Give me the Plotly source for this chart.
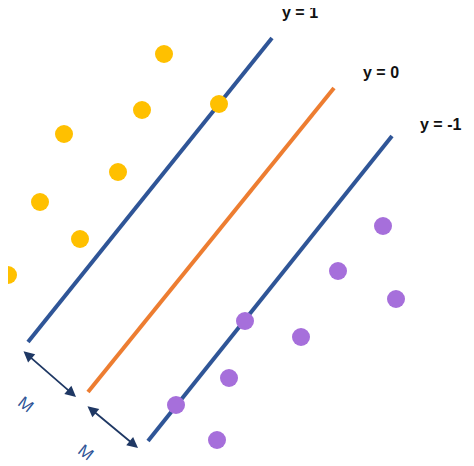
import plotly.graph_objects as go

yellow_x = [164, 142, 219, 64, 118, 40, 80, 8]
yellow_y = [54, 110, 104, 134, 172, 202, 239, 275]
purple_x = [383, 338, 396, 245, 301, 229, 176, 217]
purple_y = [226, 271, 299, 321, 337, 378, 405, 440]
line_names = ["y = 1", "y = 0", "y = -1"]
line_x = [[28, 272], [88, 334], [148, 392]]
line_y = [[342, 38], [392, 88], [441, 136]]
line_colors = ["#2F5597", "#ED7D31", "#2F5597"]
label_x = [300, 381, 440]
label_y = [12, 72, 124]

fig = go.Figure()
for lx, ly, c in zip(line_x, line_y, line_colors):
    fig.add_trace(go.Scatter(x=lx, y=ly, mode="lines", line=dict(color=c, width=4), hoverinfo="skip"))
fig.add_trace(go.Scatter(x=yellow_x, y=yellow_y, mode="markers", marker=dict(color="#FFC000", size=18)))
fig.add_trace(go.Scatter(x=purple_x, y=purple_y, mode="markers", marker=dict(color="#A66FDB", size=18)))

for t, x, y in zip(line_names, label_x, label_y):
    fig.add_annotation(x=x, y=y, text="<b>%s</b>" % t, showarrow=False,
                       font=dict(size=16, color="#111", family="Liberation Sans"))

arrows = [((22, 350), (76, 397)), ((86, 405), (138, 448))]
for (x0, y0), (x1, y1) in arrows:
    fig.add_annotation(x=x1, y=y1, ax=x0, ay=y0, xref="x", yref="y", axref="x", ayref="y",
                       text="", showarrow=True, arrowhead=2, startarrowhead=2, arrowside="end+start",
                       arrowwidth=1.8, arrowsize=1.2, startarrowsize=1.2, arrowcolor="#1F3864")
for x, y in [(26, 404), (86, 452)]:
    fig.add_annotation(x=x, y=y, text="M", showarrow=False, textangle=38,
                       font=dict(size=17, color="#2F5597", family="Liberation Sans"))

fig.update_layout(width=474, height=466, margin=dict(l=0, r=0, t=0, b=0),
                  plot_bgcolor="white", paper_bgcolor="white", showlegend=False,
                  xaxis=dict(range=[8, 482], visible=False),
                  yaxis=dict(range=[474, 8], visible=False))
fig.write_html("out.html")
